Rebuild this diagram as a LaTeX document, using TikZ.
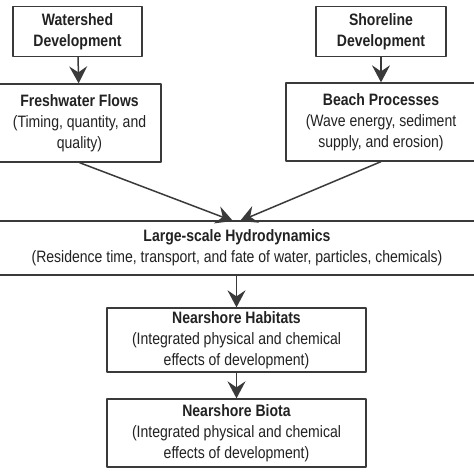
\documentclass[tikz,border=0pt]{standalone}
\usepackage{fontspec}
\setmainfont{Liberation Sans}[FakeStretch=0.85]
\usetikzlibrary{arrows.meta}
\definecolor{linegray}{HTML}{3A3A3A}
\definecolor{textgray}{HTML}{222222}
\tikzset{
  every picture/.style={line join=round, >=Stealth},
  box/.style={draw=linegray, line width=1.3pt, fill=white, align=center,
    inner sep=0pt, text=textgray, font=\fontsize{16.5}{21}\selectfont},
  flow/.style={-{Stealth[length=17pt,width=18pt,inset=6pt]}, draw=linegray, line width=1.5pt},
}

\begin{document}
\begin{tikzpicture}[x=1pt,y=-1pt]
\useasboundingbox (0,0) rectangle (474,474);
% sources of change
\node[box,minimum width=129pt,minimum height=50pt] (wsd) at (77.5,31.5) {\textbf{Watershed}\\\textbf{Development}};
\node[box,minimum width=130pt,minimum height=50pt] (sld) at (381,31.5) {\textbf{Shoreline}\\\textbf{Development}};
% physical drivers
\node[box,minimum width=163pt,minimum height=78pt] (fresh) at (79.5,123) {\textbf{Freshwater Flows}\\(Timing, quantity, and\\quality)};
\node[box,minimum width=190pt,minimum height=78pt] (beach) at (381,122) {\textbf{Beach Processes}\\(Wave energy, sediment\\supply, and erosion)};
\node[box,minimum width=480pt,minimum height=54pt] (hydro) at (237,248) {\textbf{Large-scale Hydrodynamics}\\(Residence time, transport, and fate of water, particles, chemicals)};
% responses
\node[box,minimum width=259pt,minimum height=64pt] (hab) at (236.5,340) {\textbf{Nearshore Habitats}\\(Integrated physical and chemical\\effects of development)};
\node[box,minimum width=259pt,minimum height=68pt] (biota) at (236.5,433) {\textbf{Nearshore Biota}\\(Integrated physical and chemical\\effects of development)};
\coordinate (hinL) at (233,221);
\coordinate (hinR) at (240,221);
\draw[flow] (wsd) -- (fresh);
\draw[flow] (sld) -- (beach);
\draw[flow] (fresh.south) -- (hinL);
\draw[flow] (beach.south) -- (hinR);
\draw[flow] (hab.north|-hydro.south) -- (hab);
\draw[flow] (hab) -- (biota);
\end{tikzpicture}
\end{document}
